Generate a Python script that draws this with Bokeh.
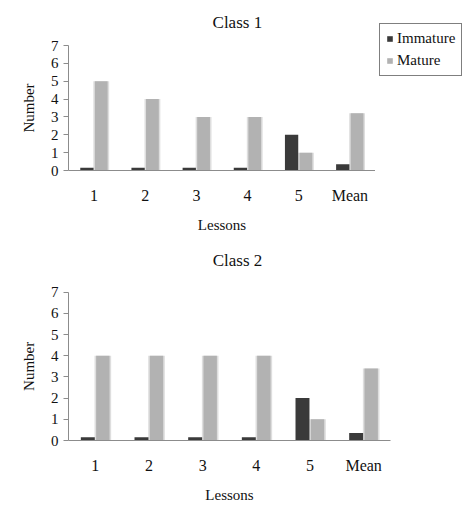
import math

from bokeh.plotting import figure
from bokeh.layouts import column, row
from bokeh.models import (FactorRange, Range1d, FixedTicker, Legend, LegendItem, Label,
                          ColumnDataSource)
from bokeh.transform import dodge
from bokeh.embed import file_html
from bokeh.resources import INLINE

lessons = ["1", "2", "3", "4", "5", "Mean"]
class1_immature = [0.15, 0.15, 0.15, 0.15, 2, 0.35]
class1_mature = [5, 4, 3, 3, 1, 3.2]
class2_immature = [0.15, 0.15, 0.15, 0.15, 2, 0.35]
class2_mature = [4, 4, 4, 4, 1, 3.4]
y_ticks = [0, 1, 2, 3, 4, 5, 6, 7]
series_names = ["Immature", "Mature"]

FONT = "Liberation Serif"
DARK = "#3a3a3a"
LIGHT = "#b2b2b2"
HALO = "#dedede"
AXIS = "#8c8c8c"
TEXT = "#111111"
LABEL_W = 45


def bare_canvas(width, height, bottom, y_top):
    c = figure(width=width, height=height, x_range=Range1d(0, 1), y_range=Range1d(0, y_top),
               x_axis_location=None, y_axis_location=None, title=None,
               min_border_left=0, min_border_right=0, min_border_top=0,
               min_border_bottom=bottom, output_backend="svg", toolbar_location=None)
    c.outline_line_color = None
    c.grid.grid_line_color = None
    return c


def y_title(height, bottom, y_top):
    # vertical "Number" caption, centred on the 0..7 scale
    c = bare_canvas(LABEL_W, height, bottom, y_top)
    c.add_layout(Label(x=28 / LABEL_W, y=(y_ticks[0] + y_ticks[-1]) / 2, text="Number",
                       angle=math.pi / 2, text_font=FONT, text_font_size="15px",
                       text_align="center", text_baseline="middle", text_color=TEXT))
    return c


def class_panel(title, immature, mature, width, height, bottom, right, y_top, title_xy):
    src = ColumnDataSource(dict(lesson=lessons, immature=immature, mature=mature))
    # the value range runs above 7 so the heading sits inside the plotting area;
    # the axis itself is bounded to 0..7
    p = figure(x_range=FactorRange(*lessons), y_range=Range1d(0, y_top), title=None,
               width=width, height=height, output_backend="svg", toolbar_location=None,
               min_border_left=68 - LABEL_W, min_border_right=right,
               min_border_top=0, min_border_bottom=bottom)
    p.outline_line_color = None
    p.grid.grid_line_color = None

    # soft edge around the light bars
    p.vbar(x=dodge("lesson", 0.14, range=p.x_range), top="mature", width=0.31,
           source=src, fill_color=HALO, line_color=None)
    p.vbar(x=dodge("lesson", -0.14, range=p.x_range), top="immature", width=0.26,
           source=src, fill_color=DARK, line_color=None)
    p.vbar(x=dodge("lesson", 0.14, range=p.x_range), top="mature", width=0.25,
           source=src, fill_color=LIGHT, line_color=None)

    p.add_layout(Label(x=title_xy[0], y=title_xy[1], text=title, text_font=FONT,
                       text_font_size="17px", text_align="center", text_baseline="middle",
                       text_color=TEXT))

    p.yaxis.ticker = FixedTicker(ticks=y_ticks)
    p.yaxis.bounds = (y_ticks[0], y_ticks[-1])
    for ax in (p.xaxis, p.yaxis):
        ax.axis_line_color = AXIS
        ax.major_tick_line_color = AXIS
        ax.minor_tick_line_color = None
        ax.major_label_text_font = FONT
        ax.major_label_text_color = TEXT
        ax.axis_label_text_font = FONT
        ax.axis_label_text_font_size = "15px"
        ax.axis_label_text_font_style = "normal"
        ax.axis_label_text_color = TEXT
    p.yaxis.major_label_text_font_size = "15px"
    p.xaxis.major_label_text_font_size = "16px"
    p.yaxis.major_tick_out = 5
    p.yaxis.major_tick_in = 0
    p.yaxis.major_label_standoff = 5
    p.xaxis.major_tick_out = 0
    p.xaxis.major_tick_in = 0
    p.xaxis.major_label_standoff = 16
    p.xaxis.axis_label = "Lessons"
    p.xaxis.axis_label_standoff = 10
    return p


def legend_panel(width, height, bottom, y_top):
    # a bare canvas beside the first chart that carries the series key
    lp = bare_canvas(width, height, bottom, y_top)
    # zero-size swatch carriers: they draw nothing on the canvas themselves
    swatch = ColumnDataSource(dict(x=[0.5], top=[0]))
    r_imm = lp.vbar(x="x", top="top", bottom=0, width=0, source=swatch,
                    fill_color=DARK, line_color=None)
    r_mat = lp.vbar(x="x", top="top", bottom=0, width=0, source=swatch,
                    fill_color=LIGHT, line_color=None)
    lg = Legend(items=[LegendItem(label=series_names[0], renderers=[r_imm], index=0),
                       LegendItem(label=series_names[1], renderers=[r_mat], index=0)],
                location=(4, 94), orientation="vertical",
                label_text_font=FONT, label_text_font_size="15px",
                label_text_color=TEXT, label_height=17,
                glyph_width=7, glyph_height=7, label_standoff=4,
                spacing=5, padding=6, margin=0,
                border_line_color="black", border_line_width=1,
                background_fill_alpha=0)
    lp.add_layout(lg)
    return lp


Y1_TOP, Y2_TOP = 9.52, 9.435
p1 = class_panel("Class 1", class1_immature, class1_mature, 375 - LABEL_W, 240, 70, 0,
                 Y1_TOP, (3.30, 8.29))
key = legend_panel(99, 240, 70, Y1_TOP)
p2 = class_panel("Class 2", class2_immature, class2_mature, 474 - LABEL_W, 273, 73, 84,
                 Y2_TOP, (3.15, 8.49))

page = column(row(y_title(240, 70, Y1_TOP), p1, key, spacing=0),
              row(y_title(273, 73, Y2_TOP), p2, spacing=0),
              spacing=0)
open("out.html", "w").write(file_html(page, INLINE))
